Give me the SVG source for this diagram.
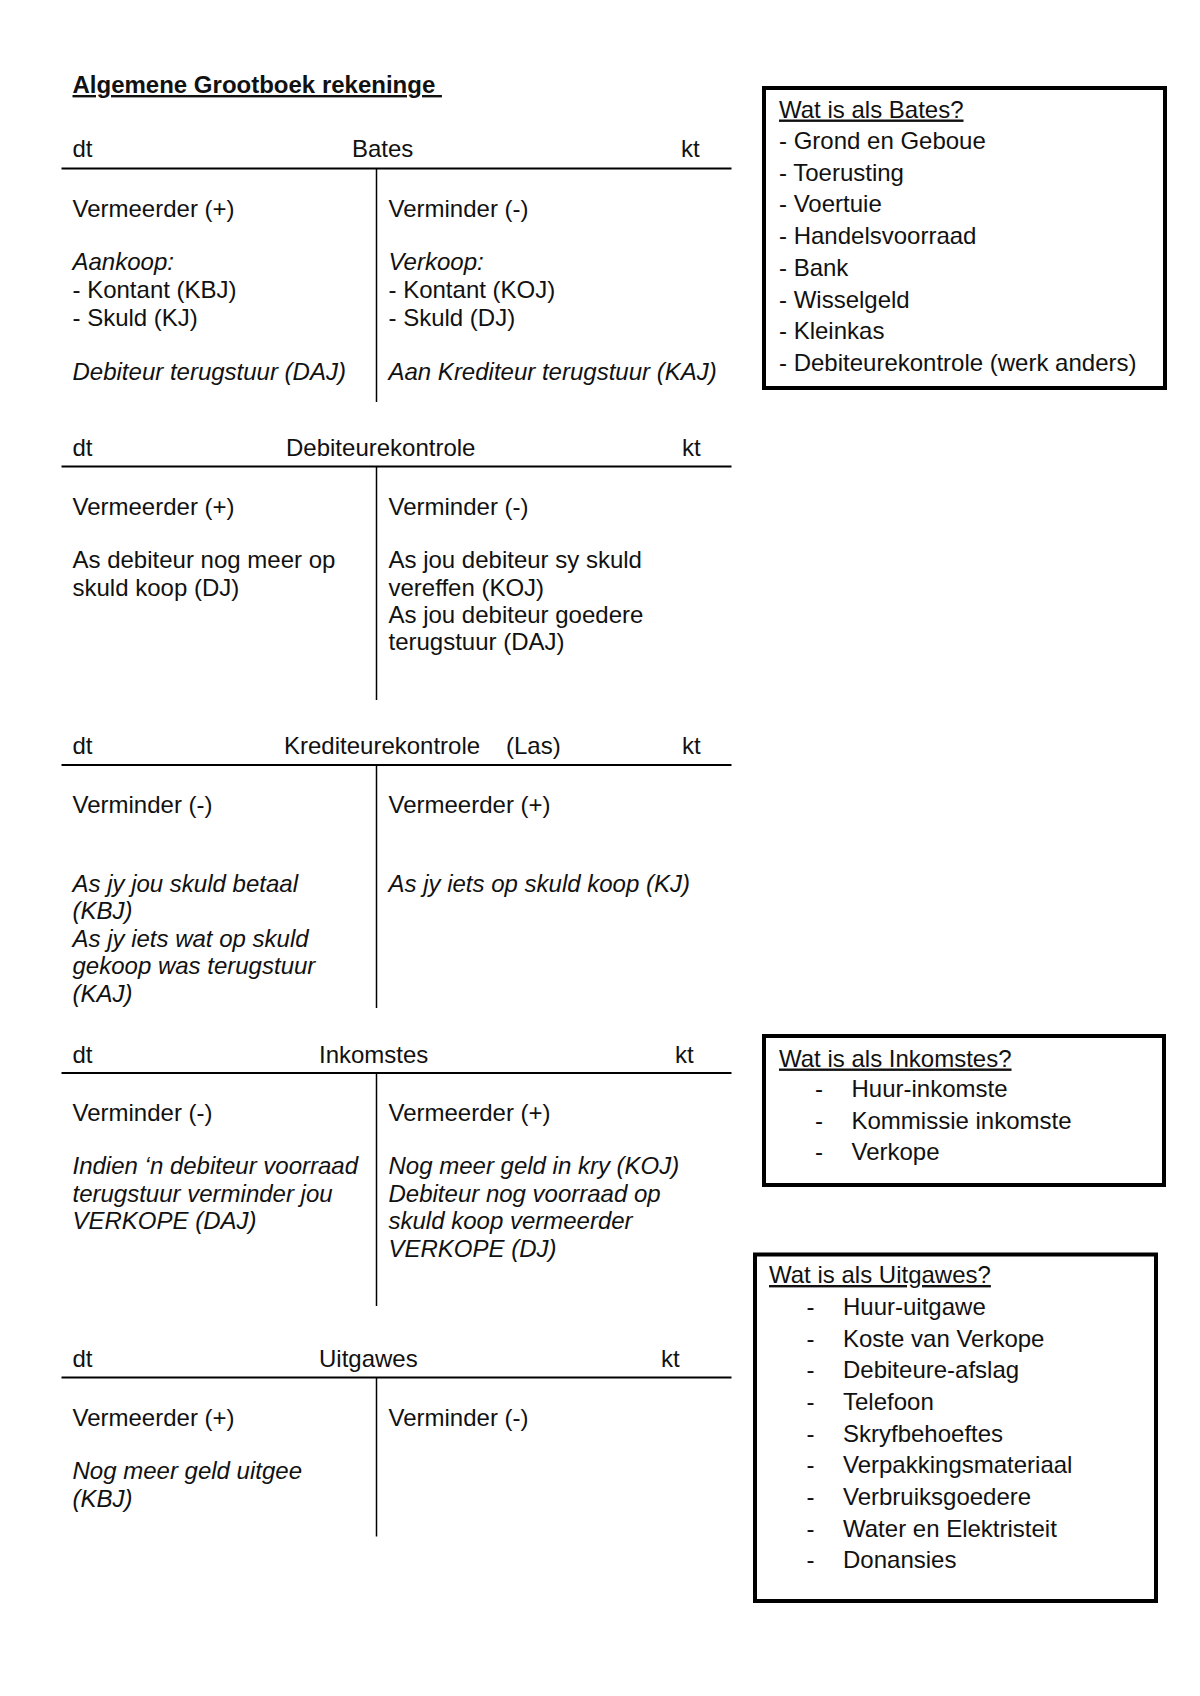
<svg xmlns="http://www.w3.org/2000/svg" width="1200" height="1696" viewBox="0 0 1200 1696">
<style>
text{font-family:"Liberation Sans",Arial,sans-serif;font-size:24px;fill:#111}
.b{font-weight:bold}
.i{font-style:italic}
.u{text-decoration:underline}
.h{stroke:#000;stroke-width:2}
.v{stroke:#000;stroke-width:1.5}
.box{fill:none;stroke:#000;stroke-width:4}
</style>
<rect width="1200" height="1696" fill="#fff"/>
<g id="title"><text x="72.5" y="93" class="b u">Algemene Grootboek rekeninge&#160;</text></g>

<g id="bates">
<text x="72.5" y="157">dt</text><text x="352" y="157">Bates</text><text x="681" y="157">kt</text>
<line class="h" x1="61.5" y1="168.5" x2="731.5" y2="168.5"/>
<line class="v" x1="376.5" y1="169" x2="376.5" y2="402"/>
<text x="72.5" y="217">Vermeerder (+)</text>
<text x="72.5" y="270" class="i">Aankoop:</text>
<text x="72.5" y="298">- Kontant (KBJ)</text>
<text x="72.5" y="325.5">- Skuld (KJ)</text>
<text x="72.5" y="380" class="i">Debiteur terugstuur (DAJ)</text>
<text x="388.5" y="217">Verminder (-)</text>
<text x="388.5" y="270" class="i">Verkoop:</text>
<text x="388.5" y="298">- Kontant (KOJ)</text>
<text x="388.5" y="325.5">- Skuld (DJ)</text>
<text x="388.5" y="380" class="i">Aan Krediteur terugstuur (KAJ)</text>
</g>

<g id="debiteurekontrole">
<text x="72.5" y="456">dt</text><text x="286" y="456">Debiteurekontrole</text><text x="682" y="456">kt</text>
<line class="h" x1="61.5" y1="466.5" x2="731.5" y2="466.5"/>
<line class="v" x1="376.5" y1="467" x2="376.5" y2="700"/>
<text x="72.5" y="515">Vermeerder (+)</text>
<text x="72.5" y="568">As debiteur nog meer op</text>
<text x="72.5" y="595.5">skuld koop (DJ)</text>
<text x="388.5" y="515">Verminder (-)</text>
<text x="388.5" y="568">As jou debiteur sy skuld</text>
<text x="388.5" y="595.5">vereffen (KOJ)</text>
<text x="388.5" y="622.5">As jou debiteur goedere</text>
<text x="388.5" y="650">terugstuur (DAJ)</text>
</g>

<g id="krediteurekontrole">
<text x="72.5" y="753.5">dt</text><text x="284" y="753.5">Krediteurekontrole</text><text x="506" y="753.5">(Las)</text><text x="682" y="753.5">kt</text>
<line class="h" x1="61.5" y1="765" x2="731.5" y2="765"/>
<line class="v" x1="376.5" y1="765.5" x2="376.5" y2="1008"/>
<text x="72.5" y="813">Verminder (-)</text>
<text x="72.5" y="891.5" class="i">As jy jou skuld betaal</text>
<text x="72.5" y="919" class="i">(KBJ)</text>
<text x="72.5" y="946.5" class="i">As jy iets wat op skuld</text>
<text x="72.5" y="974" class="i">gekoop was terugstuur</text>
<text x="72.5" y="1001.5" class="i">(KAJ)</text>
<text x="388.5" y="813">Vermeerder (+)</text>
<text x="388.5" y="891.5" class="i">As jy iets op skuld koop (KJ)</text>
</g>

<g id="inkomstes">
<text x="72.5" y="1063">dt</text><text x="319" y="1063">Inkomstes</text><text x="675" y="1063">kt</text>
<line class="h" x1="61.5" y1="1073" x2="731.5" y2="1073"/>
<line class="v" x1="376.5" y1="1073.5" x2="376.5" y2="1306"/>
<text x="72.5" y="1121">Verminder (-)</text>
<text x="72.5" y="1174" class="i">Indien ‘n debiteur voorraad</text>
<text x="72.5" y="1201.5" class="i">terugstuur verminder jou</text>
<text x="72.5" y="1229" class="i">VERKOPE (DAJ)</text>
<text x="388.5" y="1121">Vermeerder (+)</text>
<text x="388.5" y="1174" class="i">Nog meer geld in kry (KOJ)</text>
<text x="388.5" y="1201.5" class="i">Debiteur nog voorraad op</text>
<text x="388.5" y="1229" class="i">skuld koop vermeerder</text>
<text x="388.5" y="1256.5" class="i">VERKOPE (DJ)</text>
</g>

<g id="uitgawes">
<text x="72.5" y="1366.5">dt</text><text x="319" y="1366.5">Uitgawes</text><text x="661" y="1366.5">kt</text>
<line class="h" x1="61.5" y1="1377.5" x2="731.5" y2="1377.5"/>
<line class="v" x1="376.5" y1="1378" x2="376.5" y2="1536.5"/>
<text x="72.5" y="1426">Vermeerder (+)</text>
<text x="72.5" y="1479" class="i">Nog meer geld uitgee</text>
<text x="72.5" y="1506.5" class="i">(KBJ)</text>
<text x="388.5" y="1426">Verminder (-)</text>
</g>

<g id="box-bates">
<rect class="box" x="764" y="88" width="401" height="300"/>
<text x="779" y="117.5" class="u">Wat is als Bates?</text>
<text x="779" y="149">- Grond en Geboue</text>
<text x="779" y="180.5">- Toerusting</text>
<text x="779" y="212">- Voertuie</text>
<text x="779" y="244">- Handelsvoorraad</text>
<text x="779" y="276">- Bank</text>
<text x="779" y="307.5">- Wisselgeld</text>
<text x="779" y="339">- Kleinkas</text>
<text x="779" y="371">- Debiteurekontrole (werk anders)</text>
</g>

<g id="box-inkomstes">
<rect class="box" x="764" y="1036" width="400" height="149"/>
<text x="779" y="1066.5" class="u">Wat is als Inkomstes?</text>
<text x="815" y="1097">-</text><text x="851.5" y="1097">Huur-inkomste</text>
<text x="815" y="1128.5">-</text><text x="851.5" y="1128.5">Kommissie inkomste</text>
<text x="815" y="1160">-</text><text x="851.5" y="1160">Verkope</text>
</g>

<g id="box-uitgawes">
<rect class="box" x="755" y="1254.5" width="401" height="346.5"/>
<text x="769" y="1283" class="u">Wat is als Uitgawes?</text>
<text x="806.5" y="1315">-</text><text x="843" y="1315">Huur-uitgawe</text>
<text x="806.5" y="1346.7">-</text><text x="843" y="1346.7">Koste van Verkope</text>
<text x="806.5" y="1378.3">-</text><text x="843" y="1378.3">Debiteure-afslag</text>
<text x="806.5" y="1410">-</text><text x="843" y="1410">Telefoon</text>
<text x="806.5" y="1441.7">-</text><text x="843" y="1441.7">Skryfbehoeftes</text>
<text x="806.5" y="1473.3">-</text><text x="843" y="1473.3">Verpakkingsmateriaal</text>
<text x="806.5" y="1505">-</text><text x="843" y="1505">Verbruiksgoedere</text>
<text x="806.5" y="1536.7">-</text><text x="843" y="1536.7">Water en Elektristeit</text>
<text x="806.5" y="1568.3">-</text><text x="843" y="1568.3">Donansies</text>
</g>
<g id="connectors"/>
</svg>
